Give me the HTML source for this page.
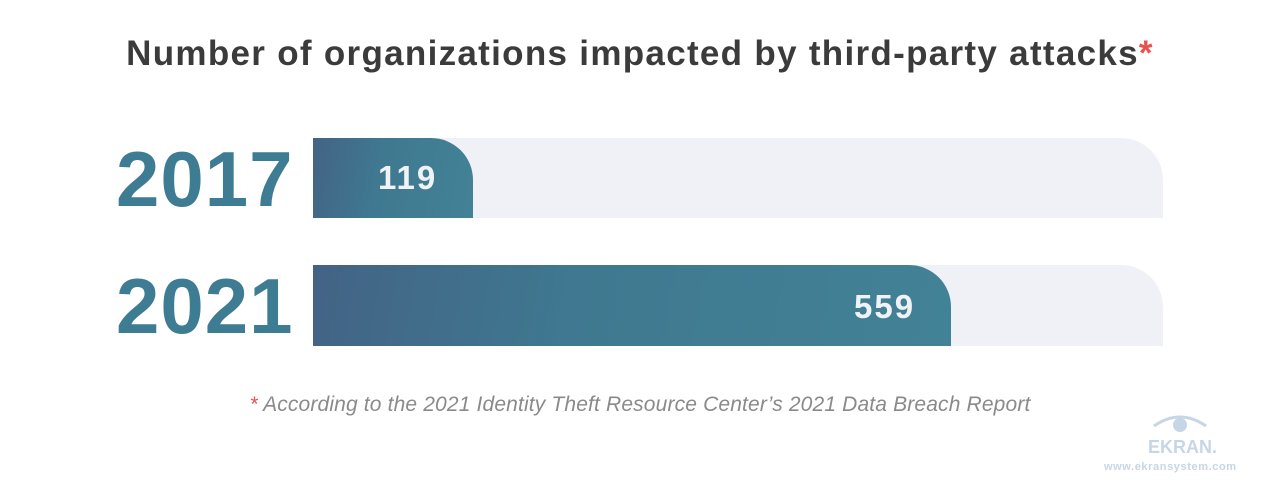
<!DOCTYPE html>
<html><head><style>
body{margin:0;width:1280px;height:495px;background:#fff;position:relative;overflow:hidden;font-family:"Liberation Sans",sans-serif}
.t{position:absolute;left:0;width:1280px;top:34px;text-align:center;font-size:35px;letter-spacing:1.3px;font-weight:bold;color:#3b3b3b}
.t span{color:#e8534f}
.y{position:absolute;left:116px;font-size:78px;font-weight:bold;color:#3e7c93;letter-spacing:1px;line-height:80px}
.tr{position:absolute;left:313px;width:850px;height:80px;background:#f0f1f6;border-top-right-radius:42px}
.f{position:absolute;left:313px;height:80px;border-top-right-radius:42px;background:linear-gradient(100deg,#436385 0%,#3f7890 40%,#428296 100%);color:#f0f2f5;font-weight:bold;font-size:33px;letter-spacing:2px;line-height:80px}
.n{position:absolute;top:0}
.fn{position:absolute;left:0;width:1280px;top:393px;text-align:center;font-size:21px;letter-spacing:0.15px;font-style:italic;color:#8a8a8a}
.fn span{color:#e8534f}
</style></head><body>
<div class="t">Number of organizations impacted by third-party attacks<span>*</span></div>
<div class="y" style="top:139px">2017</div>
<div class="y" style="top:266px">2021</div>
<div class="tr" style="top:138px"></div>
<div class="f" style="top:138px;width:160px"><span class="n" style="left:65px">119</span></div>
<div class="tr" style="top:265px;height:81px"></div>
<div class="f" style="top:265px;height:81px;line-height:84px;width:638px"><span class="n" style="left:541px">559</span></div>
<div class="fn"><span>*</span> According to the 2021 Identity Theft Resource Center’s 2021 Data Breach Report</div>
<svg style="position:absolute;left:1150px;top:412px" width="60" height="22"><path d="M4 14 Q30 -4 56 14" stroke="#c7d6e6" stroke-width="3" fill="none"/><circle cx="30" cy="13" r="7" fill="#c7d6e6"/></svg>
<div style="position:absolute;left:1148px;top:437px;font-size:18px;font-weight:bold;color:#c7d6e6">EKRAN.</div>
<div style="position:absolute;left:1104px;top:461px;font-size:11px;font-weight:bold;color:#c7d6e6;letter-spacing:0.6px">www.ekransystem.com</div>
</body></html>
